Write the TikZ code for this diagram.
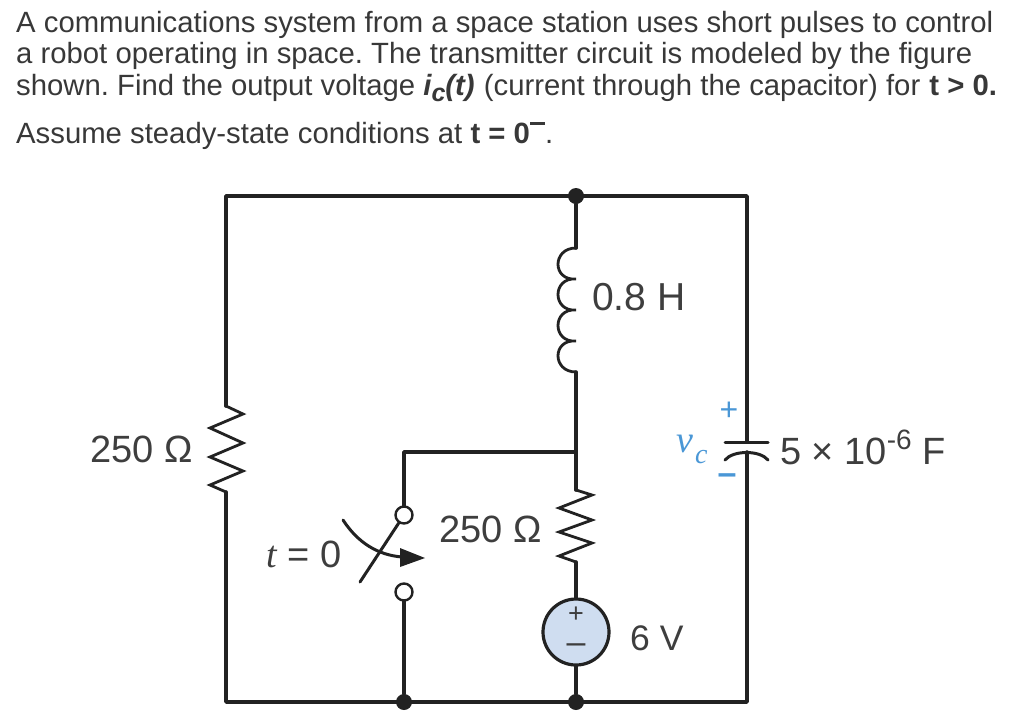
\documentclass[tikz,border=0pt]{standalone}
\usepackage{fontspec}
\setmainfont{Liberation Sans}
\newfontfamily\serifgreek{Liberation Serif}
\usetikzlibrary{arrows.meta}
\frenchspacing
\definecolor{txt}{HTML}{383838}
\definecolor{lab}{HTML}{3E3E3E}
\definecolor{wirec}{HTML}{222222}
\definecolor{blu}{HTML}{4A97D6}
\definecolor{srcfill}{HTML}{CFDDF0}
\tikzset{
  para/.style={anchor=base west,inner sep=0pt,text=txt,font=\fontsize{29.3}{32}\selectfont},
  lbl/.style={anchor=base west,inner sep=0pt,text=lab,font=\fontsize{38}{42}\selectfont},
  wire/.style={draw=wirec,line width=3.6pt,line cap=round,line join=round},
  thin wire/.style={draw=wirec,line width=2.8pt,line cap=round,line join=miter},
  dot/.style={circle,fill=wirec,minimum size=16pt,inner sep=0pt},
  term/.style={circle,draw=wirec,fill=white,line width=2.4pt,minimum size=17pt,inner sep=0pt},
  src/.style={circle,draw=wirec,fill=srcfill,line width=3.2pt,minimum size=66pt,inner sep=0pt},
}
\begin{document}
\begin{tikzpicture}[x=1pt,y=-1pt]
\useasboundingbox (0,0) rectangle (1024,724);
% text
\node[para] (l1) at (16,32) {A communications system from a space station uses short pulses to control};
\node[para] (l2) at (16,63.5) {a robot operating in space. The transmitter circuit is modeled by the figure};
\node[para] (l3) at (16,95) {shown. Find the output voltage \textbf{\textit{i\raisebox{-6pt}{\fontsize{25}{25}\selectfont c}(t)}}\hspace{1pt} (current through the capacitor) for\hspace{1pt} \textbf{t > 0.}};
\node[para] (l4) at (16,143) {Assume steady-state conditions at \textbf{t = 0\raisebox{18pt}{\rule{15pt}{3pt}}}.};
% coordinates
\coordinate (tl) at (226,196);
\coordinate (tr) at (747,196);
\coordinate (bl) at (226,702);
\coordinate (br) at (747,702);
\coordinate (jn) at (576,452);
\coordinate (jl) at (404,452);
\coordinate (rla) at (226,406);
\coordinate (rlb) at (226,492);
\coordinate (rma) at (576,490);
\coordinate (rmb) at (576,562);
\coordinate (la) at (576,248);
\coordinate (lb) at (576,372);
\coordinate (ca) at (747,442);
\coordinate (cb) at (747,452);
% wires
\node[dot] (dt) at (576,196) {};
\node[dot] (db1) at (404,702) {};
\node[dot] (db2) at (576,702) {};
\node[src] (vs) at (576,632) {};
\node[term] (sa) at (404,515) {};
\node[term] (sb) at (404,592) {};
\draw[wire] (rla) -- (tl) -- (tr) -- (ca);
\draw[wire] (cb) -- (br) -- (bl) -- (rlb);
\draw[wire] (dt) -- (la);
\draw[wire] (lb) -- (jn) -- (rma);
\draw[wire] (jn) -- (jl) -- (sa);
\draw[wire] (sb) -- (db1);
\draw[wire] (rmb) -- (vs);
\draw[wire] (vs) -- (db2);
% resistors
\draw[thin wire] (rla) -- ++(17,8) -- ++(-33,14) -- ++(33,15) -- ++(-33,14) -- ++(33,14) -- ++(-33,14) -- (rlb);
\draw[thin wire] (rma) -- ++(16,5) -- ++(-33,13) -- ++(33,12) -- ++(-33,12) -- ++(33,11) -- ++(-33,13) -- (rmb);
% inductor
\draw[thin wire] (la) .. controls +(-24,0) and +(-24,2) .. ++(0,31)
  .. controls +(-24,-2) and +(-24,2) .. ++(0,31)
  .. controls +(-24,-2) and +(-24,2) .. ++(0,31)
  .. controls +(-24,-2) and +(-24,0) .. (lb);
% capacitor
\coordinate (cpl) at (725,442);
\coordinate (cpr) at (768,442);
\coordinate (ccl) at (725,460);
\coordinate (ccr) at (768,460);
\draw[wire,line width=3pt] (cpl) -- (cpr);
\draw[wire,line width=3pt] (ccl) .. controls (733,450) and (760,450) .. (ccr);
% switch
\coordinate (swa) at (360,582);
\coordinate (arra) at (343,520);
\coordinate (arrb) at (425,558);
\draw[wire,line width=3pt] (swa) -- (sa);
\draw[wire,line width=3pt] (arra) .. controls (358,543) and (378,555) .. (402,557);
\fill[wirec] (arrb) -- (400,548) -- (400,567) -- cycle;
% source signs
\node[inner sep=0pt,text=lab,font=\fontsize{27}{27}\selectfont] (vp) at (576,615) {+};
\node[inner sep=0pt,text=lab,font=\fontsize{34}{34}\selectfont] (vm) at (576,649) {–};
% labels
\node[lbl] (r1) at (90,462) {250 Ω};
\node[lbl] (r2) at (439,542) {250 Ω};
\node[lbl,font=\fontsize{39}{42}\selectfont] (ind) at (592,310) {0.8 H};
\node[lbl,font=\fontsize{35.5}{40}\selectfont] (vv) at (630,650) {6 V};
\node[lbl] (cap) at (780,464) {5 × 10\raisebox{15pt}{\fontsize{28}{28}\selectfont -6} F};
\node[anchor=base west,inner sep=0pt,text=lab,font=\fontsize{38}{40}\selectfont] (t0) at (266,567) {{\serifgreek\itshape t} = 0};
\node[anchor=base west,inner sep=0pt,text=blu,font=\fontsize{38}{40}\selectfont\serifgreek\itshape] (vc) at (676,452) {v};
\node[anchor=base west,inner sep=0pt,text=blu,font=\fontsize{28}{30}\selectfont\serifgreek\itshape] (vcs) at (695,463) {c};
\node[inner sep=0pt,text=blu,font=\fontsize{32}{32}\selectfont] (cp) at (729,411) {+};
\node[inner sep=0pt,text=blu,font=\fontsize{34}{34}\selectfont\bfseries] (cm) at (727,479) {–};
\end{tikzpicture}
\end{document}
